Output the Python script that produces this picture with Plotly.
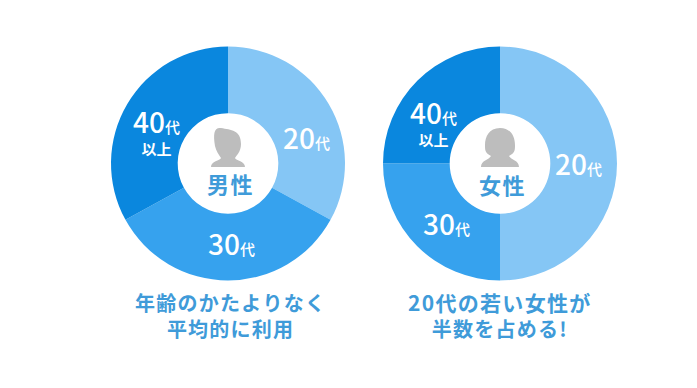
import plotly.graph_objects as go

W, H = 697, 388
age_labels = ["20代", "30代", "40代以上"]
male_values = [33, 34, 33]
female_values = [50, 25, 25]
slice_colors = ["#85C6F5", "#36A2EE", "#0A87DE"]
male_caption = ["年齢のかたよりなく", "平均的に利用"]
female_caption = ["20代の若い女性が", "半数を占める!"]
center_labels = ["男性", "女性"]

FONT = "Noto Sans CJK JP"
TEXT_BLUE = "#3F9BD9"
ICON = "#BDBDBD"


def px(x):
    return x / W


def py(y):
    return 1 - y / H


def dom(cx, cy, r):
    return dict(x=[px(cx - r), px(cx + r)], y=[py(cy + r), py(cy - r)])


def pie(values, cx, cy, r):
    return go.Pie(
        labels=age_labels, values=values, sort=False, direction="clockwise", rotation=0,
        hole=0.43, domain=dom(cx, cy, r), textinfo="none", hoverinfo="label+percent",
        marker=dict(colors=slice_colors, line=dict(width=0)), showlegend=False,
    )


fig = go.Figure([pie(male_values, 228, 163.5, 117), pie(female_values, 500, 163.5, 117)])


def txt(x, y, s, size, color="white", weight=500):
    fig.add_annotation(
        x=px(x), y=py(y), xref="paper", yref="paper", text=s, showarrow=False,
        xanchor="center", yanchor="middle",
        font=dict(family=FONT, size=size, color=color, weight=weight),
    )


def age(x, y, s):
    txt(x, y, f"{s}<span style='font-size:15px'>代</span>", 28)


def age_over(x, y, s):
    txt(x, y, f"<span style='font-size:28px;font-weight:500'>{s}</span>"
              f"<span style='font-size:15px;font-weight:500'>代</span><br>"
              f"<span style='font-size:15px'>以上</span>", 17, weight=700)


# Slice labels
age_over(156, 130, "40")
age(306, 137, "20")
age(231, 243, "30")
age_over(433, 121, "40")
age(578, 163, "20")
age(446, 223, "30")

# Centre labels
txt(229, 183, "\u200a".join(center_labels[0]), 22, TEXT_BLUE, 600)
txt(501, 184, "\u200a".join(center_labels[1]), 22, TEXT_BLUE, 600)

# Captions
txt(230, 315, "\u200a".join(male_caption[0]) + "<br>" + "\u200a".join(male_caption[1]), 20, TEXT_BLUE, 700)
txt(499, 315, "<span style='font-size:21px'>" + "\u200a".join(female_caption[0]) + "</span><br>"
    + "\u200a".join(female_caption[1]), 20, TEXT_BLUE, 700)


def male_icon(cx):
    return (
        f"M{px(cx-13):.5f},{py(146):.5f} "
        f"C{px(cx-15):.5f},{py(134):.5f} {px(cx-14):.5f},{py(127):.5f} {px(cx-7):.5f},{py(128):.5f} "
        f"C{px(cx+3):.5f},{py(130):.5f} {px(cx+13):.5f},{py(130):.5f} {px(cx+13):.5f},{py(144):.5f} "
        f"C{px(cx+13):.5f},{py(152):.5f} {px(cx+8):.5f},{py(156):.5f} {px(cx+7):.5f},{py(158):.5f} "
        f"C{px(cx+8):.5f},{py(161):.5f} {px(cx+17):.5f},{py(161):.5f} {px(cx+17):.5f},{py(167):.5f} "
        f"L{px(cx-17):.5f},{py(167):.5f} "
        f"C{px(cx-17):.5f},{py(161):.5f} {px(cx-8):.5f},{py(161):.5f} {px(cx-7):.5f},{py(158):.5f} "
        f"C{px(cx-9):.5f},{py(155):.5f} {px(cx-12):.5f},{py(151):.5f} {px(cx-13):.5f},{py(146):.5f} Z"
    )


def female_icon(cx):
    return (
        f"M{px(cx):.5f},{py(128):.5f} "
        f"C{px(cx+11):.5f},{py(128):.5f} {px(cx+15):.5f},{py(137):.5f} {px(cx+15):.5f},{py(145):.5f} "
        f"C{px(cx+15):.5f},{py(150):.5f} {px(cx+15):.5f},{py(153):.5f} {px(cx+9):.5f},{py(156):.5f} "
        f"C{px(cx+11):.5f},{py(160):.5f} {px(cx+19):.5f},{py(160):.5f} {px(cx+19):.5f},{py(167):.5f} "
        f"L{px(cx-19):.5f},{py(167):.5f} "
        f"C{px(cx-19):.5f},{py(160):.5f} {px(cx-11):.5f},{py(160):.5f} {px(cx-9):.5f},{py(156):.5f} "
        f"C{px(cx-15):.5f},{py(153):.5f} {px(cx-15):.5f},{py(150):.5f} {px(cx-15):.5f},{py(145):.5f} "
        f"C{px(cx-15):.5f},{py(137):.5f} {px(cx-11):.5f},{py(128):.5f} {px(cx):.5f},{py(128):.5f} Z"
    )


for path in (male_icon(228), female_icon(500)):
    fig.add_shape(type="path", path=path, xref="paper", yref="paper",
                  fillcolor=ICON, line=dict(width=0))

fig.update_layout(
    width=W, height=H, margin=dict(l=0, r=0, t=0, b=0),
    paper_bgcolor="white", plot_bgcolor="white",
    font=dict(family=FONT),
)
fig.write_html(
    "out.html",
    config={"displayModeBar": False, "responsive": False},
    post_script="document.body.style.margin='0';document.body.style.overflow='hidden';",
)
